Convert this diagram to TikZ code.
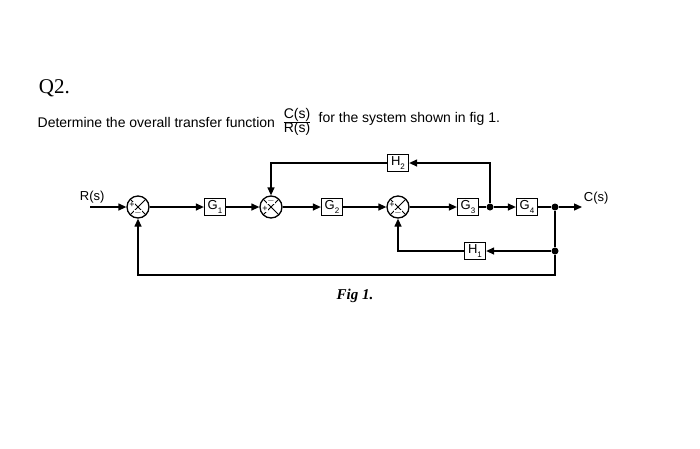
\documentclass[tikz,border=0pt]{standalone}
\usepackage{fontspec}
\setmainfont{Liberation Serif}
\setsansfont{Liberation Sans}
\usetikzlibrary{arrows.meta}
\newcommand{\sbs}[1]{\raisebox{-0.25em}{\fontsize{8}{8}\selectfont #1}}
\begin{document}
\begin{tikzpicture}[x=1pt,y=-1pt,line width=1.3pt,
  sumj/.style={circle,draw,minimum size=22pt,inner sep=0pt,
    path picture={\draw[line width=1pt] (path picture bounding box.north west)--(path picture bounding box.south east)
      (path picture bounding box.north east)--(path picture bounding box.south west);}},
  blk/.style={draw,minimum width=21pt,minimum height=17pt,inner sep=1pt,font=\sffamily\fontsize{13}{14}\selectfont},
  sig/.style={-{Triangle[length=8pt,width=7pt]}},
  dot/.style={circle,fill,inner sep=0pt,minimum size=7pt},
  sg/.style={font=\sffamily\fontsize{9}{9}\selectfont,inner sep=0pt,fill=white}]
\useasboundingbox (0,0) rectangle (700,448);
\node[anchor=west,font=\fontsize{21}{24}\selectfont] (q) at (35,88) {Q2.};
\node[anchor=west,font=\sffamily\fontsize{14}{16}\selectfont,inner sep=0pt] (t1) at (37,122) {Determine the overall transfer function};
\node[font=\sffamily\fontsize{14}{15}\selectfont,inner sep=1pt] (fr) at (297,122) {$\frac{\mbox{C(s)}}{\mbox{R(s)}}$};
\node[anchor=west,font=\sffamily\fontsize{14}{16}\selectfont,inner sep=0pt] (t2) at (318,119) {for the system shown in fig 1.};
\node[font=\bfseries\itshape\fontsize{15}{17}\selectfont] (fig) at (355,296) {Fig 1.};

\node[sumj] (s1) at (138,207) {};
\node[sumj] (s2) at (271,207) {};
\node[sumj] (s3) at (398,207) {};
\node[blk] (g1) at (215,207) {G\sbs{1}};
\node[blk] (g2) at (332,207) {G\sbs{2}};
\node[blk] (g3) at (468,207) {G\sbs{3}};
\node[blk] (g4) at (527,207) {G\sbs{4}};
\node[blk] (h2) at (398,163) {H\sbs{2}};
\node[blk] (h1) at (475,251) {H\sbs{1}};
\node[dot] (a) at (490,207) {};
\node[dot] (b) at (555,207) {};
\node[dot] (c) at (555,251) {};
\coordinate (r) at (90,207);
\coordinate (cs) at (582,207);
\node[anchor=west,font=\sffamily\fontsize{13}{14}\selectfont] (rl) at (76,197) {R(s)};
\node[anchor=west,font=\sffamily\fontsize{13}{14}\selectfont] (cl) at (580,198) {C(s)};
\node[sg] at (132,205) {+}; \node[sg] at (138,213) {$-$};
\node[sg] at (265,209) {+}; \node[sg] at (271,201) {$-$};
\node[sg] at (392,205) {+}; \node[sg] at (398,213) {$-$};

\draw[sig] (r) -- (s1);
\draw[sig] (s1) -- (g1);
\draw[sig] (g1) -- (s2);
\draw[sig] (s2) -- (g2);
\draw[sig] (g2) -- (s3);
\draw[sig] (s3) -- (g3);
\draw (g3) -- (a);
\draw[sig] (a) -- (g4);
\draw (g4) -- (b);
\draw[sig] (b) -- (cs);
\draw (b) -- (c);
\draw[sig] (a) |- (h2);
\draw[sig] (h2) -| (s2);
\draw[sig] (c) -- (h1);
\draw[sig] (h1) -| (s3);
\draw[sig] (c) |- (138,275) -- (s1);
\end{tikzpicture}
\end{document}
